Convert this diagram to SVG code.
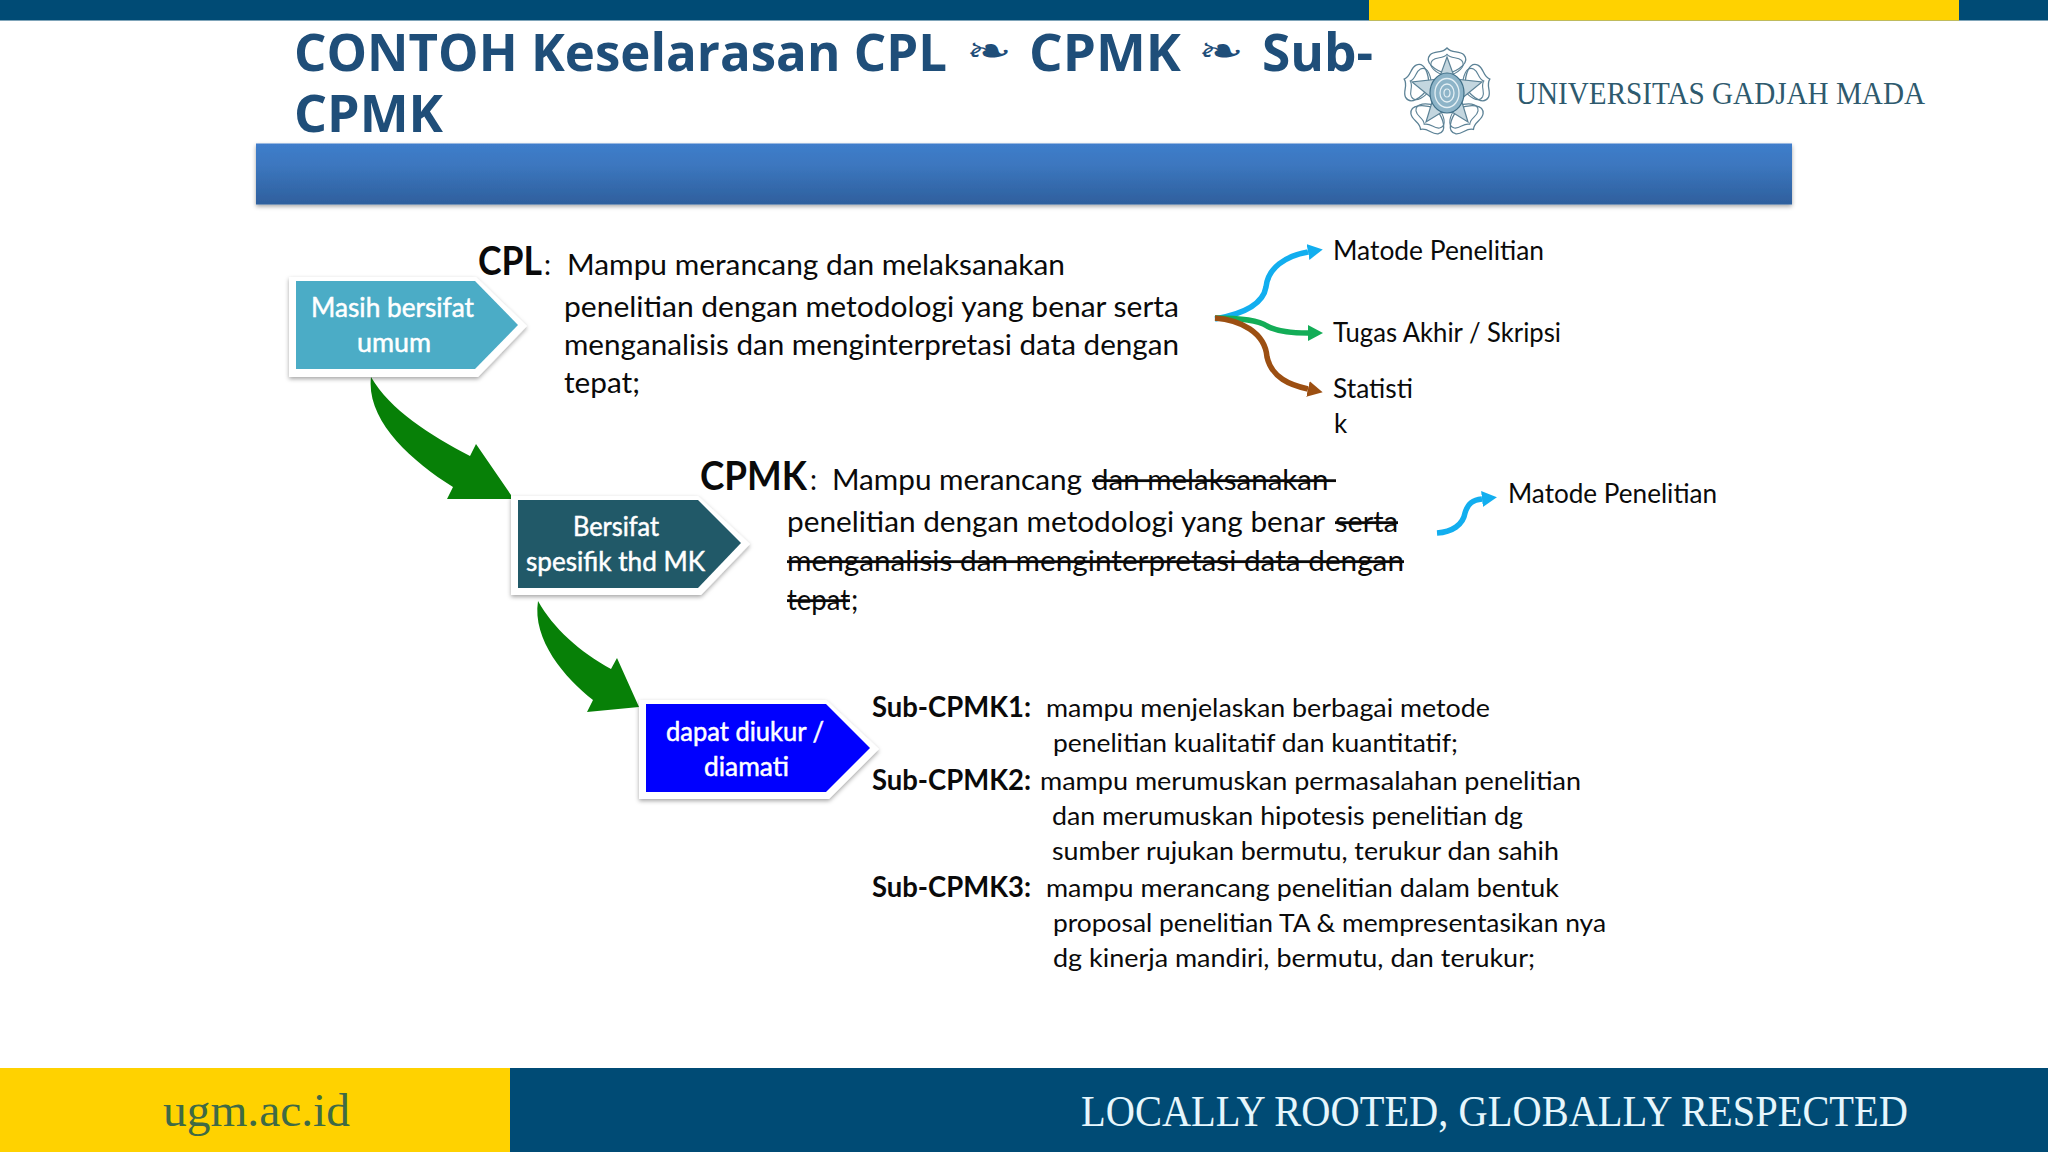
<svg xmlns="http://www.w3.org/2000/svg" xmlns:xlink="http://www.w3.org/1999/xlink" width="2048" height="1152" viewBox="0 0 2048 1152">
<style>
text{font-family:"Lato","Liberation Sans",sans-serif;fill:#0a0a0a}
.title{font-family:"Open Sans","Noto Sans",sans-serif;font-weight:700;font-size:52px;fill:#1f4e79}
.orn{font-family:"DejaVu Sans",sans-serif;font-size:38px;fill:#1f4e79}
.b{font-size:28px}
.s{font-size:25.5px}
.r{font-size:26px}
.sb{font-size:28px;font-weight:700}
.h{font-size:40px;font-weight:700}
.lab{font-size:27px;fill:#fff;stroke:#fff;stroke-width:.5px}
.del{text-decoration:line-through}
.serif{font-family:"Liberation Serif",serif}
.pl{fill:none;stroke:#5c8296;stroke-width:1.3}
.cn{fill:none;stroke-width:5.5}
</style>
<defs>
<linearGradient id="band" x1="0" y1="0" x2="0" y2="1"><stop offset="0" stop-color="#3f7dcb"/><stop offset=".35" stop-color="#3c77bf"/><stop offset="1" stop-color="#2e5f9d"/></linearGradient>
<filter id="sh" x="-10%" y="-10%" width="120%" height="125%"><feDropShadow dx="0" dy="2" stdDeviation="2" flood-color="#000" flood-opacity=".35"/></filter>
<marker id="mb" markerUnits="userSpaceOnUse" markerWidth="16" markerHeight="18" refX="0" refY="9" orient="auto"><path d="M0,1 L15,9 L0,17 Z" fill="#12aeef"/></marker>
<marker id="mg" markerUnits="userSpaceOnUse" markerWidth="16" markerHeight="18" refX="0" refY="9" orient="auto"><path d="M0,1 L15,9 L0,17 Z" fill="#13ad57"/></marker>
<marker id="mr" markerUnits="userSpaceOnUse" markerWidth="16" markerHeight="18" refX="0" refY="9" orient="auto"><path d="M0,1 L15,9 L0,17 Z" fill="#9c4f12"/></marker>
<path id="petal" d="M0,-19 C-13,-23 -23,-31 -17,-38 C-12,-43 -5,-39 0,-45 C5,-39 12,-43 17,-38 C23,-31 13,-23 0,-19 Z"/>
</defs>

<rect width="2048" height="1152" fill="#fff"/>

<g id="top-bar">
<rect x="0" y="0" width="2048" height="20.5" fill="#004b75"/>
<rect x="1369" y="0" width="590" height="20.5" fill="#ffd200"/>
</g>

<g id="title">
<text class="title" x="294" y="71" textLength="653" lengthAdjust="spacingAndGlyphs">CONTOH Keselarasan CPL</text>
<text class="orn" x="966" y="64" textLength="46" lengthAdjust="spacingAndGlyphs">❧</text>
<text class="title" x="1029" y="71" textLength="152" lengthAdjust="spacingAndGlyphs">CPMK</text>
<text class="orn" x="1198" y="64" textLength="46" lengthAdjust="spacingAndGlyphs">❧</text>
<text class="title" x="1262" y="71" textLength="111" lengthAdjust="spacingAndGlyphs">Sub-</text>
<text class="title" x="294" y="132" textLength="149" lengthAdjust="spacingAndGlyphs">CPMK</text>
</g>

<g id="logo">
<g transform="translate(1447,93)">
<g class="pl">
<use xlink:href="#petal"/><use xlink:href="#petal" transform="rotate(72)"/><use xlink:href="#petal" transform="rotate(144)"/><use xlink:href="#petal" transform="rotate(216)"/><use xlink:href="#petal" transform="rotate(288)"/>
<use xlink:href="#petal" transform="scale(.86)"/><use xlink:href="#petal" transform="rotate(72) scale(.86)"/><use xlink:href="#petal" transform="rotate(144) scale(.86)"/><use xlink:href="#petal" transform="rotate(216) scale(.86)"/><use xlink:href="#petal" transform="rotate(288) scale(.86)"/>
</g>
<path d="M0,-36 L8,-14 L35,-11 L14,6 L21,29 L0,16 L-21,29 L-14,6 L-35,-11 L-8,-14 Z" fill="#c3d6df" stroke="#5c8296" stroke-width="1.2"/>
<ellipse cx="0" cy="0" rx="17" ry="20" fill="#8db4c8" stroke="#3f6f88" stroke-width="1.2"/>
<ellipse cx="0" cy="0" rx="12" ry="14.5" fill="none" stroke="#e4eff4" stroke-width="1.3"/>
<ellipse cx="0" cy="0" rx="7" ry="9" fill="none" stroke="#e4eff4" stroke-width="1.3"/>
<ellipse cx="0" cy="0" rx="3" ry="4" fill="none" stroke="#e4eff4" stroke-width="1.2"/>
</g>
<text class="serif" x="1516" y="104" font-size="32" textLength="409" lengthAdjust="spacingAndGlyphs" style="fill:#2e5a6e">UNIVERSITAS GADJAH MADA</text>
</g>

<g id="band-bar"><rect x="256" y="143.500" width="1536" height="61" fill="url(#band)" filter="url(#sh)"/></g>

<g id="connectors">
<path d="M371,377 C390,410 430,435 470,456 L476,444 L511,495 L511,499 L447,499 L453,487 C410,460 366,420 371,377 Z" fill="#078007"/>
<path d="M538,601 C553,628 580,652 611,669 L617,658 L639,707 L587,712 L593,700 C565,678 532,640 538,601 Z" fill="#078007"/>
<path class="cn" stroke="#12aeef" marker-end="url(#mb)" d="M1215,319 C1243,314 1263,305 1266,287 C1268,268 1285,256 1308,252"/>
<path class="cn" stroke="#13ad57" marker-end="url(#mg)" d="M1215,318 C1240,318 1258,320 1267,326 C1278,332 1295,333 1308,333"/>
<path class="cn" stroke="#9c4f12" marker-end="url(#mr)" d="M1215,318 C1240,320 1265,332 1267,357 C1272,378 1290,385 1308,389"/>
<path class="cn" stroke="#12aeef" marker-end="url(#mb)" d="M1437,533 C1452,532 1463,525 1465,513 C1468,503 1473,500 1482,499"/>
</g>

<g id="node-umum">
<path d="M289,277 H476 L527,326 L478,377 H289 Z" fill="#fff" filter="url(#sh)"/>
<path d="M296,281 H475 L518,325 L475,369 H296 Z" fill="#4bacc6"/>
<text class="lab" x="311" y="317" textLength="163" lengthAdjust="spacingAndGlyphs">Masih bersifat</text>
<text class="lab" x="357" y="352" textLength="74" lengthAdjust="spacingAndGlyphs">umum</text>
</g>

<g id="node-spesifik">
<path d="M511,496 H698 L750,544 L701,595 H511 Z" fill="#fff" filter="url(#sh)"/>
<path d="M518,500 H698 L741,543 L698,588 H518 Z" fill="#215968"/>
<text class="lab" x="573" y="536" textLength="86" lengthAdjust="spacingAndGlyphs">Bersifat</text>
<text class="lab" x="526" y="571" textLength="179" lengthAdjust="spacingAndGlyphs">spesifik thd MK</text>
</g>

<g id="node-diukur">
<path d="M639,700 H826 L879,749 L829,799 H639 Z" fill="#fff" filter="url(#sh)"/>
<path d="M646,704 H826 L870,748 L826,792 H646 Z" fill="#0000ff"/>
<text class="lab" x="666" y="741" textLength="158" lengthAdjust="spacingAndGlyphs">dapat diukur /</text>
<text class="lab" x="704" y="776" textLength="85" lengthAdjust="spacingAndGlyphs">diamati</text>
</g>

<g id="cpl-text">
<text class="h" x="478" y="275" textLength="64" lengthAdjust="spacingAndGlyphs">CPL</text>
<text class="b" x="544" y="275">:</text>
<text class="b" x="567" y="275" textLength="498" lengthAdjust="spacingAndGlyphs">Mampu merancang dan melaksanakan</text>
<text class="b" x="564" y="317" textLength="615" lengthAdjust="spacingAndGlyphs">penelitian dengan metodologi yang benar serta</text>
<text class="b" x="564" y="355" textLength="615" lengthAdjust="spacingAndGlyphs">menganalisis dan menginterpretasi data dengan</text>
<text class="b" x="564" y="393" textLength="76" lengthAdjust="spacingAndGlyphs">tepat;</text>
</g>

<g id="cpl-targets">
<text class="r" x="1333" y="260" textLength="211" lengthAdjust="spacingAndGlyphs">Matode Penelitian</text>
<text class="r" x="1333" y="342" textLength="228" lengthAdjust="spacingAndGlyphs">Tugas Akhir / Skripsi</text>
<text class="r" x="1333" y="398" textLength="80" lengthAdjust="spacingAndGlyphs">Statisti</text>
<text class="r" x="1334" y="433">k</text>
</g>

<g id="cpmk-text">
<text class="h" x="700" y="490" textLength="107" lengthAdjust="spacingAndGlyphs">CPMK</text>
<text class="b" x="810" y="490">:</text>
<text class="b" x="832" y="490" textLength="250" lengthAdjust="spacingAndGlyphs">Mampu merancang</text>
<text class="b del" x="1092" y="490" textLength="244" lengthAdjust="spacingAndGlyphs">dan melaksanakan&#160;</text>
<text class="b" x="787" y="532" textLength="538" lengthAdjust="spacingAndGlyphs">penelitian dengan metodologi yang benar</text>
<text class="b del" x="1335" y="532" textLength="63" lengthAdjust="spacingAndGlyphs">serta</text>
<text class="b del" x="787" y="571" textLength="617" lengthAdjust="spacingAndGlyphs">menganalisis dan menginterpretasi data dengan</text>
<text class="b del" x="787" y="610" textLength="63" lengthAdjust="spacingAndGlyphs">tepat</text>
<text class="b" x="851" y="610">;</text>
</g>

<g id="cpmk-target">
<text class="r" x="1508" y="503" textLength="209" lengthAdjust="spacingAndGlyphs">Matode Penelitian</text>
</g>

<g id="sub-cpmk-text">
<text class="sb" x="872" y="717" textLength="159" lengthAdjust="spacingAndGlyphs">Sub-CPMK1:</text>
<text class="s" x="1046" y="717" textLength="444" lengthAdjust="spacingAndGlyphs">mampu menjelaskan berbagai metode</text>
<text class="s" x="1053" y="752" textLength="405" lengthAdjust="spacingAndGlyphs">penelitian kualitatif dan kuantitatif;</text>
<text class="sb" x="872" y="790" textLength="159" lengthAdjust="spacingAndGlyphs">Sub-CPMK2:</text>
<text class="s" x="1040" y="790" textLength="541" lengthAdjust="spacingAndGlyphs">mampu merumuskan permasalahan penelitian</text>
<text class="s" x="1052" y="825" textLength="471" lengthAdjust="spacingAndGlyphs">dan merumuskan hipotesis penelitian dg</text>
<text class="s" x="1052" y="860" textLength="507" lengthAdjust="spacingAndGlyphs">sumber rujukan bermutu, terukur dan sahih</text>
<text class="sb" x="872" y="897" textLength="159" lengthAdjust="spacingAndGlyphs">Sub-CPMK3:</text>
<text class="s" x="1046" y="897" textLength="513" lengthAdjust="spacingAndGlyphs">mampu merancang penelitian dalam bentuk</text>
<text class="s" x="1053" y="932" textLength="553" lengthAdjust="spacingAndGlyphs">proposal penelitian TA &amp; mempresentasikan nya</text>
<text class="s" x="1053" y="967" textLength="482" lengthAdjust="spacingAndGlyphs">dg kinerja mandiri, bermutu, dan terukur;</text>
</g>

<g id="footer">
<rect x="0" y="1068" width="510" height="84" fill="#ffd200"/>
<rect x="510" y="1068" width="1538" height="84" fill="#004b75"/>
<text class="serif" x="163" y="1126" font-size="46" textLength="187" lengthAdjust="spacingAndGlyphs" style="fill:#3f6a45">ugm.ac.id</text>
<text class="serif" x="1081" y="1126" font-size="45" textLength="827" lengthAdjust="spacingAndGlyphs" style="fill:#e6f6fc">LOCALLY ROOTED, GLOBALLY RESPECTED</text>
</g>
</svg>
